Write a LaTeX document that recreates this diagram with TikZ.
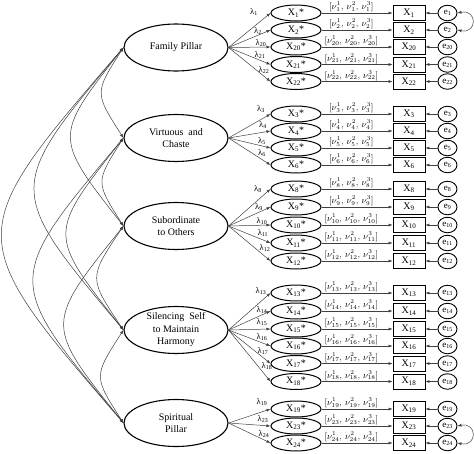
\documentclass[tikz,border=0pt]{standalone}
\usepackage[no-math]{fontspec}
\setmainfont{Liberation Serif}
\usetikzlibrary{arrows.meta,shapes.geometric}
\begin{document}
\begin{tikzpicture}[x=1pt,y=-1pt,
  factor/.style={draw,ellipse,line width=1.1pt,minimum width=104pt,minimum height=47pt,inner xsep=0pt,inner ysep=-4pt,align=center,font=\fontsize{10}{12.5}\selectfont},
  ind/.style={draw,ellipse,line width=1pt,minimum width=50pt,minimum height=16pt,inner sep=0pt,font=\fontsize{10}{11}\selectfont},
  obs/.style={draw,rectangle,line width=0.9pt,minimum width=32pt,minimum height=15pt,inner sep=0pt,font=\fontsize{10}{11}\selectfont},
  err/.style={draw,ellipse,line width=0.9pt,minimum width=19pt,minimum height=15.5pt,inner sep=0pt,font=\fontsize{9}{10}\selectfont},
  lam/.style={inner sep=0pt,font=\fontsize{8.5}{9}\selectfont},
  nu/.style={above,pos=0.42,inner sep=1pt,font=\fontsize{9}{10}\selectfont},
  arr/.style={draw=black!75,line width=0.5pt,-{Latex[length=4pt,width=3pt]}},
  darr/.style={draw=black!75,line width=0.5pt,{Latex[length=4pt,width=3pt]}-{Latex[length=4pt,width=3pt]}}
]
\useasboundingbox (0,0) rectangle (474,453);
% factors
\node[factor] (F) at (176,47.5) {Family Pillar};
\node[factor] (V) at (176,138) {Virtuous\ \ and\\Chaste};
\node[factor] (S) at (176,226) {Subordinate\\to Others};
\node[factor] (H) at (176,330) {Silencing\ \ Self\\to Maintain\\Harmony};
\node[factor] (P) at (176,423) {Spiritual\\Pillar};
% indicators
\foreach \i/\r/\lx/\ly/\f in {1/13/254/12/F, 2/30/258/31/F, 20/47/261/43/F, 21/64.5/260/55/F, 22/81.5/264/70/F,
  3/114/261/109/V, 4/131/263/125/V, 5/148/262/141/V, 6/165/262/153/V,
  8/189/258/189/S, 9/207/259/207/S, 10/225/262/221/S, 11/243/263/233/S, 12/261/265/248/S,
  13/293/261/291/H, 14/311/262/310/H, 15/329/262/322/H, 16/346/262/337/H, 17/363.5/263/351/H, 18/381.5/267/366/H,
  19/409/262/402/P, 23/426/263/419/P, 24/443/264/434/P}{
  \node[ind] (xs\i) at (296,\r) {X\textsubscript{\i}*};
  \node[obs] (x\i) at (409,\r) {X\textsubscript{\i}};
  \node[err] (e\i) at (447.5,\r) {e\textsubscript{\i}};
  \draw[arr] (\f.east) -- (xs\i.west);
  \node[lam] (l\i) at (\lx,\ly) {λ\textsubscript{\i}};
  \draw[arr] (xs\i.east) -- node[nu] {$[\nu^{1}_{\i},\,\nu^{2}_{\i},\,\nu^{3}_{\i}]$} (x\i.west);
  \draw[arr] (e\i.west) -- (x\i.east);
}
% error covariances
\draw[darr] (e1.east) .. controls +(20,-4) and +(20,4) .. (e2.east);
\draw[darr] (e23.east) .. controls +(20,-4) and +(20,4) .. (e24.east);
% factor correlations
\foreach \a/\b/\c/\h in {F/V/29/45.25, F/S/70/89.25, F/H/118.5/141.25, F/P/162/187.75,
  V/S/28/44, V/H/76/96, V/P/120/142.5, S/H/35/52, S/P/79/98.5, H/P/30/46.5}{
  \draw[darr] (\a.west) .. controls +(-\c,\h) and +(-\c,-\h) .. (\b.west);
}
\end{tikzpicture}
\end{document}
